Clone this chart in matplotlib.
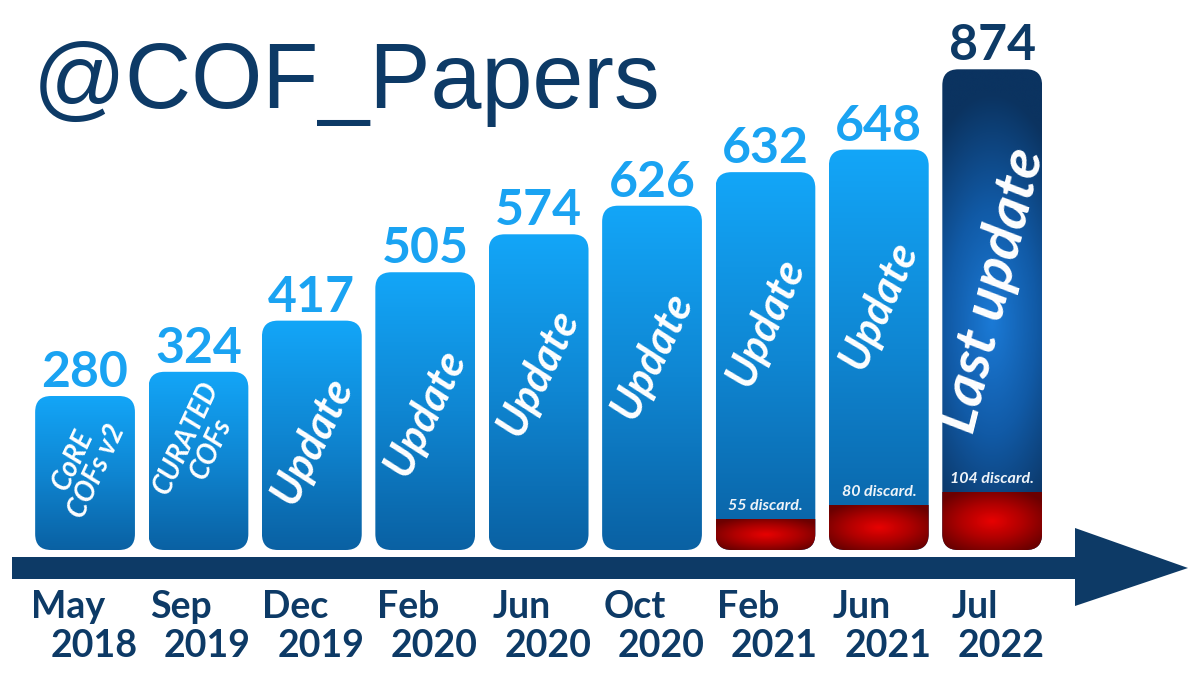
import numpy as np
import matplotlib
matplotlib.use("Agg")
import matplotlib.pyplot as plt
from matplotlib.patches import FancyBboxPatch, Polygon
from matplotlib.colors import LinearSegmentedColormap

months = ["May", "Sep", "Dec", "Feb", "Jun", "Oct", "Feb", "Jun", "Jul"]
years = ["2018", "2019", "2019", "2020", "2020", "2020", "2021", "2021", "2022"]
papers = [280, 324, 417, 505, 574, 626, 632, 648, 874]
# height of each bar as drawn (Feb/Jun 2021 bars include the discarded ones)
drawn_height = [280, 324, 417, 505, 574, 626, 687, 728, 874]
discarded = [0, 0, 0, 0, 0, 0, 55, 80, 104]
notes = ["CoRE\nCOFs v2", "CURATED\nCOFs", "Update", "Update", "Update",
         "Update", "Update", "Update", "Last update"]

NAVY = "#0d3a66"
LIGHT = "#1aa3f2"
FONT = ["Lato", "DejaVu Sans"]

W, H = 1200, 675
XLIM = (-0.75, (W - 85) / 113.4)
YLIM = (-125 / 0.55, 550 / 0.55)


def xpix(p):
    # image pixel column -> data x
    return XLIM[0] + p / W * (XLIM[1] - XLIM[0])


def ypix(p):
    # image pixel row (from top) -> data y
    return YLIM[0] + (H - p) / H * (YLIM[1] - YLIM[0])


fig = plt.figure(figsize=(12, 6.75), dpi=100)
ax = fig.add_axes([0, 0, 1, 1])
ax.axis("off")

units_x = (XLIM[1] - XLIM[0]) / W
units_y = (YLIM[1] - YLIM[0]) / H
aspect = units_y / units_x

bar_w = 0.88
radius = 16 * units_x

blue_cmap = LinearSegmentedColormap.from_list("blue", ["#0a61a3", "#0f86d2", "#13a6f8"])
last_cmap = LinearSegmentedColormap.from_list("last", ["#1b7ad6", "#115aa6", "#0b3360"])
red_cmap = LinearSegmentedColormap.from_list("red", ["#e80202", "#b00000", "#6c0000"])

vert = np.linspace(0, 1, 256).reshape(-1, 1)
gx, gy = np.meshgrid(np.linspace(-1, 1, 128), np.linspace(-1, 1, 256))

for i, (h, disc) in enumerate(zip(drawn_height, discarded)):
    x0 = i - bar_w / 2
    patch = FancyBboxPatch((x0, 0), bar_w, h,
                           boxstyle=f"round,pad=0,rounding_size={radius}",
                           mutation_aspect=aspect, fc="none", ec="none")
    ax.add_patch(patch)

    if i == len(drawn_height) - 1:
        d = np.sqrt((gx * 0.55) ** 2 + ((gy + 0.05) / 0.95) ** 2)
        im = ax.imshow(np.clip(d, 0, 1), extent=(x0, x0 + bar_w, 0, h), origin="lower",
                       aspect="auto", cmap=last_cmap, vmin=0, vmax=1,
                       interpolation="bicubic", zorder=2)
    else:
        im = ax.imshow(vert, extent=(x0, x0 + bar_w, 0, h), origin="lower",
                       aspect="auto", cmap=blue_cmap, interpolation="bicubic", zorder=2)
    im.set_clip_path(patch)

    if disc > 0:
        d = np.sqrt((gx * 0.8) ** 2 + (gy * 0.85) ** 2)
        im = ax.imshow(np.clip(d, 0, 1), extent=(x0, x0 + bar_w, 0, disc), origin="lower",
                       aspect="auto", cmap=red_cmap, vmin=0, vmax=1,
                       interpolation="bicubic", zorder=3)
        im.set_clip_path(patch)
        ax.text(i, disc + 7 * units_y, f"{disc} discard.", ha="center", va="bottom",
                fontsize=11.5, weight="bold", style="italic", color="#eef3f8",
                family=FONT, zorder=4)

    color = NAVY if i == len(papers) - 1 else LIGHT
    ax.text(i, h + 9 * units_y, str(papers[i]), ha="center", va="baseline",
            fontsize=36, weight="bold", color=color, family=FONT, zorder=4)

# rotated notes inside the bars
note_rows = [466, 443, 440, 412, 372, 355, 322, 305, 290]
note_size = [20, 20, 31, 31, 31, 31, 31, 31, 42]
note_rot = [65, 65, 64, 64, 64, 64, 66, 66, 76]
for i, (txt, row, fs, rot) in enumerate(zip(notes, note_rows, note_size, note_rot)):
    ax.text(i, ypix(row), txt, rotation=rot, rotation_mode="anchor",
            ha="center", va="center", multialignment="center", linespacing=1.05,
            fontsize=fs, weight="bold", style="italic", color="white",
            family=FONT, zorder=4)

# timeline arrow
shaft_top, shaft_bot = 557, 579
arrow = Polygon([
    (xpix(12), ypix(shaft_top)), (xpix(1075), ypix(shaft_top)),
    (xpix(1075), ypix(528)), (xpix(1188), ypix(568)),
    (xpix(1075), ypix(606)), (xpix(1075), ypix(shaft_bot)),
    (xpix(12), ypix(shaft_bot)),
], closed=True, fc=NAVY, ec="none", zorder=2)
ax.add_patch(arrow)

# date labels
for i, (m, y) in enumerate(zip(months, years)):
    ax.text(i - 0.15, ypix(607), m, ha="center", va="center", fontsize=27,
            weight="bold", color=NAVY, family=FONT)
    ax.text(i + 0.08, ypix(646), y, ha="center", va="center", fontsize=27,
            weight="bold", color=NAVY, family=FONT)

# handle
ax.text(xpix(33), ypix(108), "@COF_Papers", ha="left", va="baseline",
        fontsize=66, color=NAVY, family=["Liberation Sans", "DejaVu Sans"])

ax.set_xlim(*XLIM)
ax.set_ylim(*YLIM)
fig.savefig("out.png", dpi=100, facecolor="white")
